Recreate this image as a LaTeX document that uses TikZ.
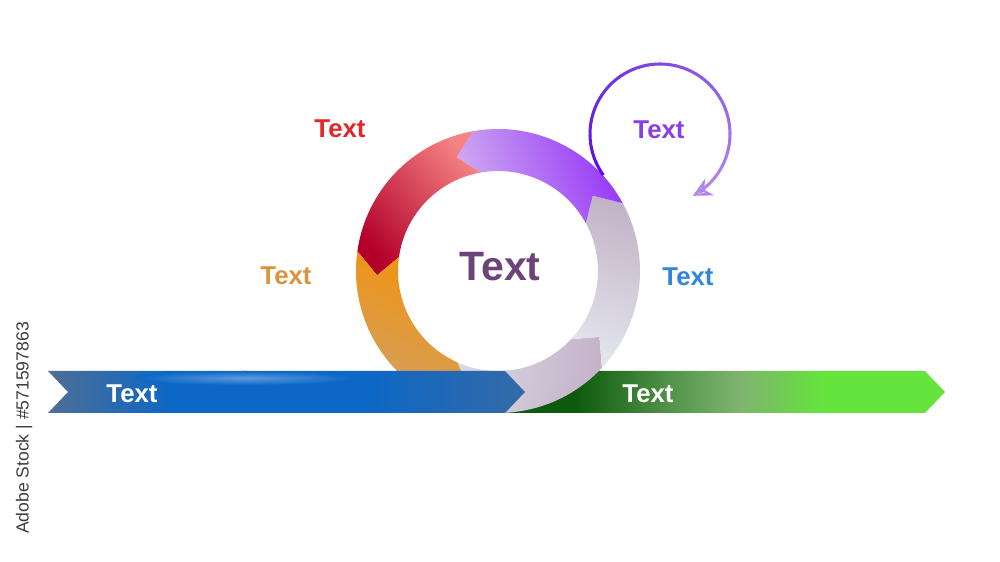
\documentclass[tikz,border=0pt]{standalone}
\usepackage{fontspec}
\setmainfont{Liberation Sans}
\usetikzlibrary{arrows.meta}
\definecolor{bA}{HTML}{4E6E95}
\definecolor{bB}{HTML}{0C67C6}
\definecolor{bC}{HTML}{356AA6}
\definecolor{gA}{HTML}{0E5A0C}
\definecolor{gB}{HTML}{5A9A50}
\definecolor{gC}{HTML}{80B570}
\definecolor{gD}{HTML}{72C856}
\definecolor{gE}{HTML}{66E43E}
\definecolor{arcA}{HTML}{5A0FE0}
\definecolor{arcB}{HTML}{B38CEB}
\definecolor{txtred}{HTML}{E02828}
\definecolor{txtorange}{HTML}{D8953C}
\definecolor{txtpurple}{HTML}{8A3EE6}
\definecolor{txtblue}{HTML}{2F86DC}
\definecolor{txtcenter}{HTML}{6D4479}
\definecolor{wmark}{HTML}{3D3D3D}
\pgfdeclarehorizontalshading{bluebar}{100bp}{color(0bp)=(bA); color(25bp)=(bA); color(38bp)=(bB); color(58bp)=(bB); color(75bp)=(bC); color(100bp)=(bC)}
\pgfdeclarehorizontalshading{greenbar}{100bp}{color(0bp)=(gA); color(33bp)=(gA); color(45bp)=(gB); color(52bp)=(gC); color(56bp)=(gD); color(61bp)=(gE); color(100bp)=(gE)}
\begin{document}
\begin{tikzpicture}[x=0.03cm,y=0.03cm,
  lbl/.style={font=\fontsize{22}{22}\selectfont\bfseries, inner sep=0pt},
  ringseg/.style={draw=none},
  barbox/.style={draw=none},
]
\useasboundingbox (0,0) rectangle (1000,562);
\fill[white] (0,0) rectangle (1000,562);

% green bar (behind ring)
\shade[barbox, shading=greenbar] (505,191) -- (925,191) -- (945,170) -- (925,149) -- (505,149) -- (525,170) -- cycle;

% ring segments, centre (498,291)
\begin{scope}[shift={(498,291)}]
  % lilac bottom 246 -> 317
  \shade[ringseg, left color={rgb,255:red,218;green,221;blue,231}, right color={rgb,255:red,197;green,178;blue,201}, shading angle=80]
    (246:142) arc[start angle=246, end angle=317, radius=142] -- (327:121) -- (317:100)
    arc[start angle=317, end angle=246, radius=100] -- (256:121) -- cycle;
  % grey right 317 -> 388.5
  \shade[ringseg, top color={rgb,255:red,195;green,179;blue,199}, bottom color={rgb,255:red,226;green,229;blue,236}, shading angle=-20]
    (317:142) arc[start angle=317, end angle=388.5, radius=142] -- (398.5:121) -- (388.5:100)
    arc[start angle=388.5, end angle=317, radius=100] -- (327:121) -- cycle;
  % purple top 28.5 -> 100
  \shade[ringseg, left color={rgb,255:red,207;green,170;blue,240}, right color={rgb,255:red,149;green,53;blue,247}, shading angle=110]
    (28.5:142) arc[start angle=28.5, end angle=100, radius=142] -- (110:121) -- (100:100)
    arc[start angle=100, end angle=28.5, radius=100] -- (38.5:121) -- cycle;
  % red 100 -> 172
  \shade[ringseg, top color={rgb,255:red,245;green,131;blue,131}, bottom color={rgb,255:red,179;green,0;blue,42}, shading angle=-50]
    (100:142) arc[start angle=100, end angle=172, radius=142] -- (182:121) -- (172:100)
    arc[start angle=172, end angle=100, radius=100] -- (110:121) -- cycle;
  % orange 172 -> 246
  \shade[ringseg, top color={rgb,255:red,243;green,146;blue,10}, bottom color={rgb,255:red,210;green,160;blue,98}, shading angle=-25]
    (172:142) arc[start angle=172, end angle=246, radius=142] -- (256:121) -- (246:100)
    arc[start angle=246, end angle=172, radius=100] -- (182:121) -- cycle;
\end{scope}

% blue bar (in front)
\shade[barbox, shading=bluebar] (48,191) -- (505,191) -- (525,170) -- (505,149) -- (48,149) -- (68,170) -- cycle;
\shade[inner color={rgb,255:red,90;green,155;blue,222}, outer color=bB] (245,184) ellipse [x radius=110, y radius=7];

% curly arrow
\coordinate (cc) at (660,428);
\foreach \i in {0,...,22} {
  \pgfmathsetmacro\aa{216-\i*11.6}
  \pgfmathsetmacro\bb{216-(\i+1)*11.6-0.5}
  \pgfmathsetmacro\pp{100-\i*100/23}
  \draw[line width=2.6pt, color=arcA!\pp!arcB] (cc) ++(\aa:70) arc[start angle=\aa, end angle=\bb, radius=70];
}
\draw[line width=2.6pt, color=arcB!95!arcA, -{Stealth[open, length=16pt, width=16pt, inset=5pt, line width=2pt]}]
  (cc) ++(-50.8:70) arc[start angle=-50.8, end angle=-62, radius=70];

% labels
\node[lbl, text=txtred] (tred) at (340,433) {Text};
\node[lbl, text=txtorange] (torange) at (286,286) {Text};
\node[lbl, text=txtpurple] (tpurple) at (659,432) {Text};
\node[lbl, text=txtblue] (tblue) at (688,285) {Text};
\node[inner sep=0pt, font=\fontsize{35}{35}\selectfont\bfseries, text=txtcenter] (tcenter) at (500,295) {Text};
\node[lbl, text=white] (tbluebar) at (132,168) {Text};
\node[lbl, text=white] (tgreenbar) at (648,168) {Text};

% side mark
\node[rotate=90, inner sep=0pt, font=\fontsize{15}{15}\selectfont, text=wmark] (wm) at (24,134) {Adobe Stock | \#571597863};
\end{tikzpicture}
\end{document}
